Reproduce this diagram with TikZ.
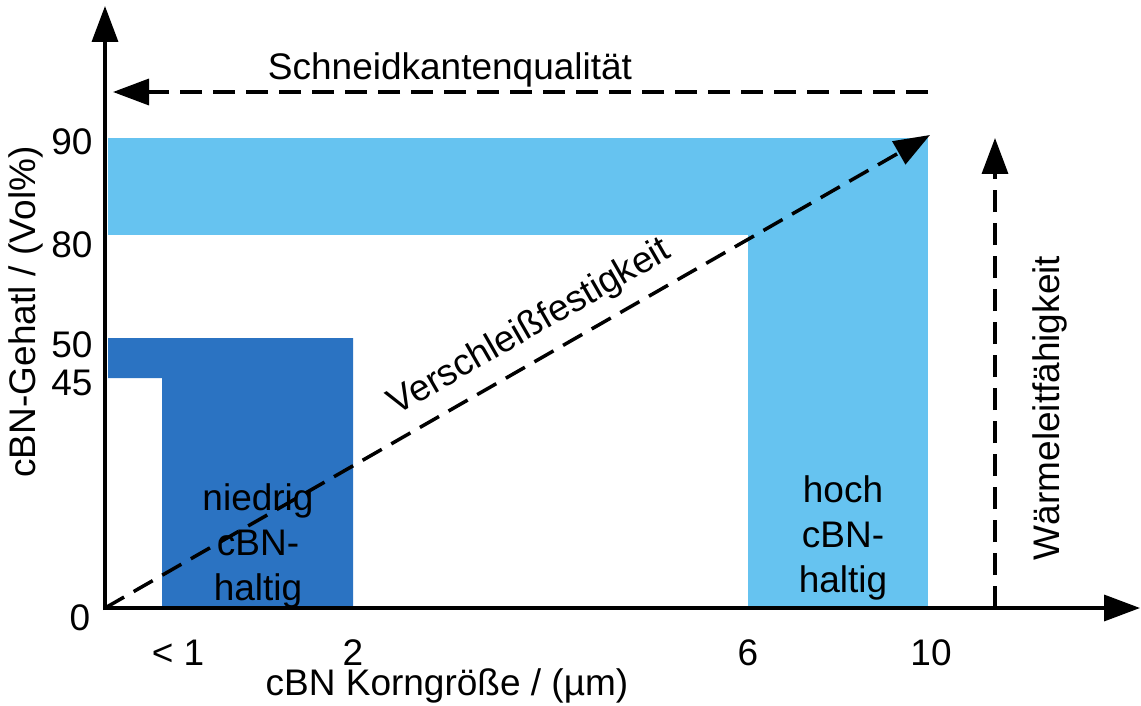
\documentclass[tikz,border=0pt]{standalone}
\usepackage{fontspec}
\setmainfont{Liberation Sans}
\usetikzlibrary{arrows.meta}
\definecolor{lb}{HTML}{66C3F0}
\definecolor{db}{HTML}{2B73C2}
\begin{document}
\begin{tikzpicture}[x=1pt,y=-1pt,
  ax/.style={line width=3.5pt,-{Triangle[length=36pt,width=26pt]}},
  da/.style={line width=3.5pt,dash pattern=on 22pt off 11pt,-{Triangle[length=36pt,width=26pt]}},
  lab/.style={font=\fontsize{37}{42}\selectfont,inner sep=0pt},
  txt/.style={font=\fontsize{37}{45}\selectfont,align=center,inner sep=0pt}]
\useasboundingbox (0,0) rectangle (1141,706);
\fill[lb] (108,138) rectangle (928,235);
\fill[lb] (748,138) rectangle (928,608);
\fill[db] (108,338) -- (353,338) -- (353,608) -- (162,608) -- (162,378) -- (108,378) -- cycle;
\coordinate (o) at (105,608);
\coordinate (yt) at (105,6);
\coordinate (xt) at (1140,608);
\draw[ax] (105,610) -- (yt);
\draw[ax] (103,608) -- (xt);
\coordinate (s1) at (928,92); \coordinate (s2) at (113,92);
\draw[da] (s1) -- (s2);
\node[lab] (sq) at (450,70) {Schneidkantenqualität};
\coordinate (d2) at (930,135);
\draw[da] (o) -- (d2);
\node[lab,rotate=29.9] (vf) at (530,328) {Verschleißfestigkeit};
\coordinate (w1) at (995,608); \coordinate (w2) at (995,138);
\draw[da] (w1) -- (w2);
\node[lab,rotate=90] (wl) at (1050,408) {Wärmeleitfähigkeit};
\node[lab] (t90) at (72,142) {90};
\node[lab] (t80) at (72,245) {80};
\node[lab] (t50) at (72,345) {50};
\node[lab] (t45) at (72,383) {45};
\node[lab] (t0) at (80,618) {0};
\node[lab,rotate=90] (yl) at (26,312) {cBN-Gehatl / (Vol\%)};
\node[lab] (x1) at (178,653) {< 1};
\node[lab] (x2) at (353,653) {2};
\node[lab] (x6) at (748,653) {6};
\node[lab] (x10) at (931,653) {10};
\node[lab] (xl) at (447,686) {cBN Korngröße / (µm)};
\node[txt] (n) at (258,546) {niedrig\\cBN-\\haltig};
\node[txt] (h) at (843,538) {hoch\\cBN-\\haltig};
\end{tikzpicture}
\end{document}
